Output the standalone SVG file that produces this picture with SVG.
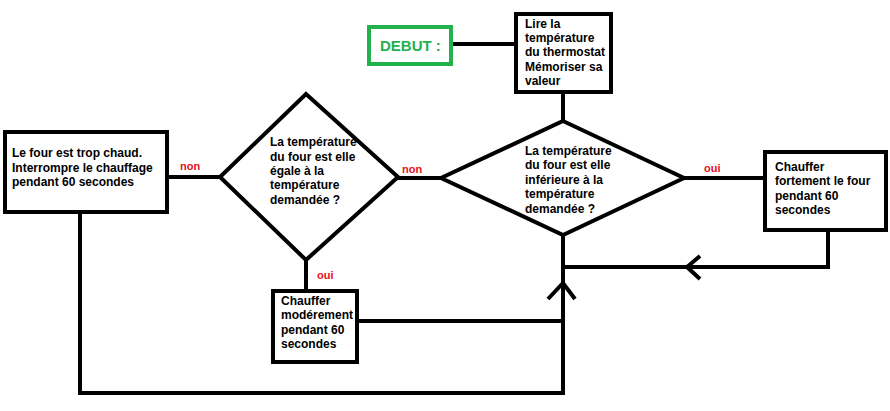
<svg xmlns="http://www.w3.org/2000/svg" width="890" height="411" viewBox="0 0 890 411">
<style>
.b{fill:#fff;stroke:#000;stroke-width:4}
.t{font-family:"Liberation Sans",Arial,sans-serif;font-weight:bold;font-size:12px;fill:#000}
.r{font-family:"Liberation Sans",Arial,sans-serif;font-weight:bold;font-size:11px;fill:#e8101e}
.c{fill:none;stroke:#000;stroke-width:4}
</style>
<rect width="890" height="411" fill="#fff"/>
<g id="connectors">
<path class="c" d="M452 44H516M563 92V121M684 178H765" />
<path class="c" d="M684 178H765" stroke-width="2"/>
<path class="c" d="M828 230V267H563M563 235V393H80V213M357 321H563M167 177H220M398 178H441M306 260V290"/>
<path class="c" d="M700 256L687 267L700 279M548 299L563 283L575 299"/>
</g>
<g id="debut"><rect x="369" y="27" width="82" height="37" fill="#fff" stroke="#22b14c" stroke-width="4"/>
<text x="380" y="51" font-family="Liberation Sans,Arial,sans-serif" font-weight="bold" font-size="15" fill="#22b14c">DEBUT :</text></g>
<g id="lire"><rect class="b" x="516" y="14" width="95" height="78"/>
<text class="t"><tspan x="525" y="28">Lire la</tspan><tspan x="525" y="42">température</tspan><tspan x="525" y="56">du thermostat</tspan><tspan x="525" y="71">Mémoriser sa</tspan><tspan x="525" y="85">valeur</tspan></text></g>
<g id="inf"><polygon class="b" points="563,121 684,178 563,235 441,178"/>
<text class="t"><tspan x="525" y="155">La température</tspan><tspan x="525" y="169">du four est elle</tspan><tspan x="525" y="184">inférieure à la</tspan><tspan x="525" y="198">température</tspan><tspan x="525" y="213">demandée ?</tspan></text></g>
<g id="fort"><rect class="b" x="765" y="152" width="121" height="78"/>
<text class="t"><tspan x="775" y="171">Chauffer</tspan><tspan x="775" y="185">fortement le four</tspan><tspan x="775" y="200">pendant 60</tspan><tspan x="775" y="214">secondes</tspan></text></g>
<g id="egal"><polygon class="b" points="306,94 398,177 306,260 220,177"/>
<text class="t"><tspan x="270" y="146">La température</tspan><tspan x="270" y="161">du four est elle</tspan><tspan x="270" y="175">égale à la</tspan><tspan x="270" y="189">température</tspan><tspan x="270" y="204">demandée ?</tspan></text></g>
<g id="modere"><rect class="b" x="273" y="291" width="84" height="71"/>
<text class="t"><tspan x="281" y="305">Chauffer</tspan><tspan x="281" y="319">modérement</tspan><tspan x="281" y="334">pendant 60</tspan><tspan x="281" y="348">secondes</tspan></text></g>
<g id="chaud"><rect class="b" x="5" y="132" width="162" height="80"/>
<text class="t"><tspan x="12" y="157">Le four est trop chaud.</tspan><tspan x="12" y="172">Interrompre le chauffage</tspan><tspan x="12" y="186">pendant 60 secondes</tspan></text></g>
<g id="labels">
<text class="r" x="180" y="170">non</text>
<text class="r" x="402" y="173">non</text>
<text class="r" x="704" y="172">oui</text>
<text class="r" x="317" y="279">oui</text>
</g>
</svg>
